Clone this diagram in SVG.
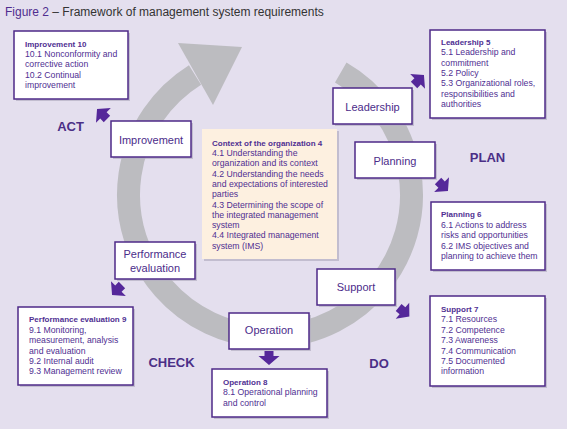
<svg xmlns="http://www.w3.org/2000/svg" width="567" height="429" viewBox="0 0 567 429">
<style>
text{font-family:"Liberation Sans",Arial,sans-serif;}
.bg{fill:#e4dfee;}
.box{fill:#ffffff;stroke:#4e2a88;stroke-width:1.5;}
.sh{fill:#b3aec2;opacity:0.7;}
.lbl{font-size:11px;fill:#4b2c8a;text-anchor:middle;}
.det{font-size:8.7px;fill:#4f2f92;}
.det .t{font-weight:bold;font-size:8px;}
.pdca{font-size:13px;font-weight:bold;fill:#4b2f87;text-anchor:middle;}
.ring{fill:none;stroke:#bcbcc0;stroke-width:23;}
.arr{fill:#55289a;}
</style>
<defs>
<path id="arr" d="M-4.5,-7 H4.5 V-2 H10.5 L0,7 L-10.5,-2 H-4.5 Z"/>
</defs>
<rect class="bg" x="0" y="0" width="567" height="429"/>
<text x="5" y="16" font-size="12" fill="#333333"><tspan fill="#4f2d8f">Figure 2</tspan> – Framework of management system requirements</text>

<g id="cycle">
<path class="ring" d="M340.75,72.46 A141.5,141.5 0 1 1 195.02,75.0"/>
<polygon points="178,43 242,47 213,105" fill="#bcbcc0"/>
</g>

<g id="connectors" class="arr">
<use href="#arr" transform="translate(102,114) rotate(135)"/>
<use href="#arr" transform="translate(419,80) rotate(-135)"/>
<use href="#arr" transform="translate(443,186) rotate(-45)"/>
<use href="#arr" transform="translate(404,312) rotate(-50)"/>
<use href="#arr" transform="translate(269,358)"/>
<use href="#arr" transform="translate(117,290) rotate(45)"/>
</g>

<g id="context">
<rect class="sh" x="204" y="131" width="135" height="130"/>
<rect x="202" y="129" width="135" height="130" fill="#fdf0e0"/>
<text class="det" x="212">
<tspan class="t" x="212" y="145.7">Context of the organization 4</tspan>
<tspan x="212" y="156">4.1 Understanding the</tspan>
<tspan x="212" y="166.3">organization and its context</tspan>
<tspan x="212" y="176.6">4.2 Understanding the needs</tspan>
<tspan x="212" y="186.9">and expectations of interested</tspan>
<tspan x="212" y="197.2">parties</tspan>
<tspan x="212" y="207.5">4.3 Determining the scope of</tspan>
<tspan x="212" y="217.8">the integrated management</tspan>
<tspan x="212" y="228.1">system</tspan>
<tspan x="212" y="238.4">4.4 Integrated management</tspan>
<tspan x="212" y="248.7">system (IMS)</tspan>
</text>
</g>

<g id="improvement">
<rect class="sh" x="113" y="123" width="80" height="36"/>
<rect class="box" x="111" y="121" width="80" height="36"/>
<text class="lbl" x="151" y="143.5">Improvement</text>
</g>
<g id="leadership">
<rect class="sh" x="335" y="90" width="79" height="36"/>
<rect class="box" x="333" y="88" width="79" height="36"/>
<text class="lbl" x="372.5" y="110.7">Leadership</text>
</g>
<g id="planning">
<rect class="sh" x="357" y="144" width="80" height="36"/>
<rect class="box" x="355" y="142" width="80" height="36"/>
<text class="lbl" x="395" y="164.7">Planning</text>
</g>
<g id="support">
<rect class="sh" x="319" y="271" width="78" height="36"/>
<rect class="box" x="317" y="269" width="78" height="36"/>
<text class="lbl" x="356" y="291.3">Support</text>
</g>
<g id="operation">
<rect class="sh" x="231" y="315" width="80" height="36"/>
<rect class="box" x="229" y="313" width="80" height="36"/>
<text class="lbl" x="269" y="334">Operation</text>
</g>
<g id="performance">
<rect class="sh" x="117" y="244" width="80" height="37"/>
<rect class="box" x="115" y="242" width="80" height="37"/>
<text class="lbl" x="155" y="258">Performance</text>
<text class="lbl" x="155" y="272.3">evaluation</text>
</g>

<g id="improvement10">
<rect class="sh" x="16" y="33" width="114" height="68"/>
<rect class="box" x="14" y="31" width="114" height="68"/>
<text class="det">
<tspan class="t" x="25" y="46.5">Improvement 10</tspan>
<tspan x="25" y="57">10.1 Nonconformity and</tspan>
<tspan x="25" y="67.4">corrective action</tspan>
<tspan x="25" y="77.8">10.2 Continual</tspan>
<tspan x="25" y="88.2">improvement</tspan>
</text>
</g>
<g id="leadership5">
<rect class="sh" x="432" y="32" width="115" height="88"/>
<rect class="box" x="430" y="30" width="115" height="88"/>
<text class="det">
<tspan class="t" x="441" y="44.7">Leadership 5</tspan>
<tspan x="441" y="55.2">5.1 Leadership and</tspan>
<tspan x="441" y="65.6">commitment</tspan>
<tspan x="441" y="76">5.2 Policy</tspan>
<tspan x="441" y="86.4">5.3 Organizational roles,</tspan>
<tspan x="441" y="96.8">responsibilities and</tspan>
<tspan x="441" y="107.2">authorities</tspan>
</text>
</g>
<g id="planning6">
<rect class="sh" x="433" y="204" width="114" height="68"/>
<rect class="box" x="431" y="202" width="114" height="68"/>
<text class="det">
<tspan class="t" x="441" y="217.3">Planning 6</tspan>
<tspan x="441" y="227.7">6.1 Actions to address</tspan>
<tspan x="441" y="238.1">risks and opportunities</tspan>
<tspan x="441" y="248.5">6.2 IMS objectives and</tspan>
<tspan x="441" y="258.9">planning to achieve them</tspan>
</text>
</g>
<g id="support7">
<rect class="sh" x="432" y="298" width="115" height="90"/>
<rect class="box" x="430" y="296" width="115" height="90"/>
<text class="det">
<tspan class="t" x="441" y="312">Support 7</tspan>
<tspan x="441" y="322.4">7.1 Resources</tspan>
<tspan x="441" y="332.8">7.2 Competence</tspan>
<tspan x="441" y="343.2">7.3 Awareness</tspan>
<tspan x="441" y="353.6">7.4 Communication</tspan>
<tspan x="441" y="364">7.5 Documented</tspan>
<tspan x="441" y="374.4">information</tspan>
</text>
</g>
<g id="operation8">
<rect class="sh" x="214" y="371" width="115" height="48"/>
<rect class="box" x="212" y="369" width="115" height="48"/>
<text class="det">
<tspan class="t" x="223" y="384.7">Operation 8</tspan>
<tspan x="223" y="395.1">8.1 Operational planning</tspan>
<tspan x="223" y="405.5">and control</tspan>
</text>
</g>
<g id="performance9">
<rect class="sh" x="20" y="309" width="115" height="78"/>
<rect class="box" x="18" y="307" width="115" height="78"/>
<text class="det">
<tspan class="t" x="29" y="322.3">Performance evaluation 9</tspan>
<tspan x="29" y="332.7">9.1 Monitoring,</tspan>
<tspan x="29" y="343.1">measurement, analysis</tspan>
<tspan x="29" y="353.5">and evaluation</tspan>
<tspan x="29" y="363.9">9.2 Internal audit</tspan>
<tspan x="29" y="374.3">9.3 Management review</tspan>
</text>
</g>

<text class="pdca" x="70.5" y="131">ACT</text>
<text class="pdca" x="487.5" y="162">PLAN</text>
<text class="pdca" x="171.5" y="367">CHECK</text>
<text class="pdca" x="379" y="368">DO</text>
</svg>
